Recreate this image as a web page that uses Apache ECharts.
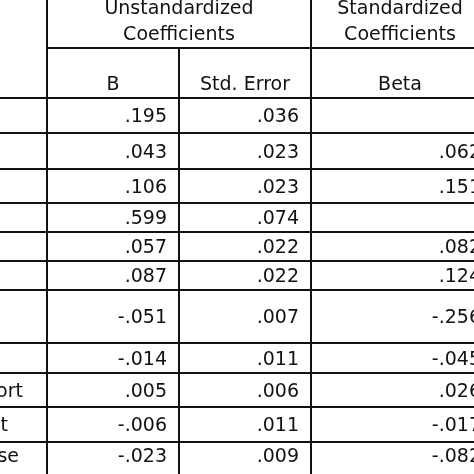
<!DOCTYPE html><html><head><meta charset="utf-8">
<script src="https://cdn.jsdelivr.net/npm/echarts@6/dist/echarts.min.js"></script>
<style>html,body{margin:0;padding:0;background:#fff}#c{width:474px;height:474px}</style></head><body><div id="c"></div>
<script>
const rowLabels = ["", "", "", "", "", "", "", "", "Social support", "Trust in government", "Perceived response"];
const labelRight = [23, 23, 23, 23, 23, 23, 23, 23, 23, 8, 19];
const B = [".195", ".043", ".106", ".599", ".057", ".087", "-.051", "-.014", ".005", "-.006", "-.023"];
const SE = [".036", ".023", ".023", ".074", ".022", ".022", ".007", ".011", ".006", ".011", ".009"];
const Beta = ["", ".062", ".151", "", ".082", ".124", "-.256", "-.045", ".026", "-.017", "-.082"];
const rowEdges = [98, 133, 169, 203, 232, 261, 290, 343, 373, 407, 442, 480];
const colEdges = [47, 179, 311];

const chart = echarts.init(document.getElementById('c'));
const g = [];
const font = '19px "DejaVu Sans"';
const txt = (x, y, s, align) => g.push({type:'text', x, y, style:{text:s, font, fill:'#111', align, verticalAlign:'middle'}});
const line = (x1, y1, x2, y2) => g.push({type:'line', shape:{x1,y1,x2,y2}, style:{stroke:'#111', lineWidth:2}});
txt(179, 9, 'Unstandardized', 'center'); txt(179, 35, 'Coefficients', 'center');
txt(400, 9, 'Standardized', 'center'); txt(400, 35, 'Coefficients', 'center');
txt(113, 85, 'B', 'center'); txt(245, 85, 'Std. Error', 'center'); txt(400, 85, 'Beta', 'center');
line(colEdges[0], 48, 474, 48);
colEdges.forEach((x, i) => line(x, i === 1 ? 48 : 0, x, 474));
rowEdges.forEach(y => line(0, y, 474, y));
for (let i = 0; i < B.length; i++) {
  const yc = (rowEdges[i] + rowEdges[i + 1]) / 2 + (i === 10 ? -4 : 2);
  txt(labelRight[i], yc, rowLabels[i], 'right');
  txt(167, yc, B[i], 'right');
  txt(299, yc, SE[i], 'right');
  txt(481, yc, Beta[i], 'right');
}
chart.setOption({animation:false, graphic:g});
</script></body></html>
